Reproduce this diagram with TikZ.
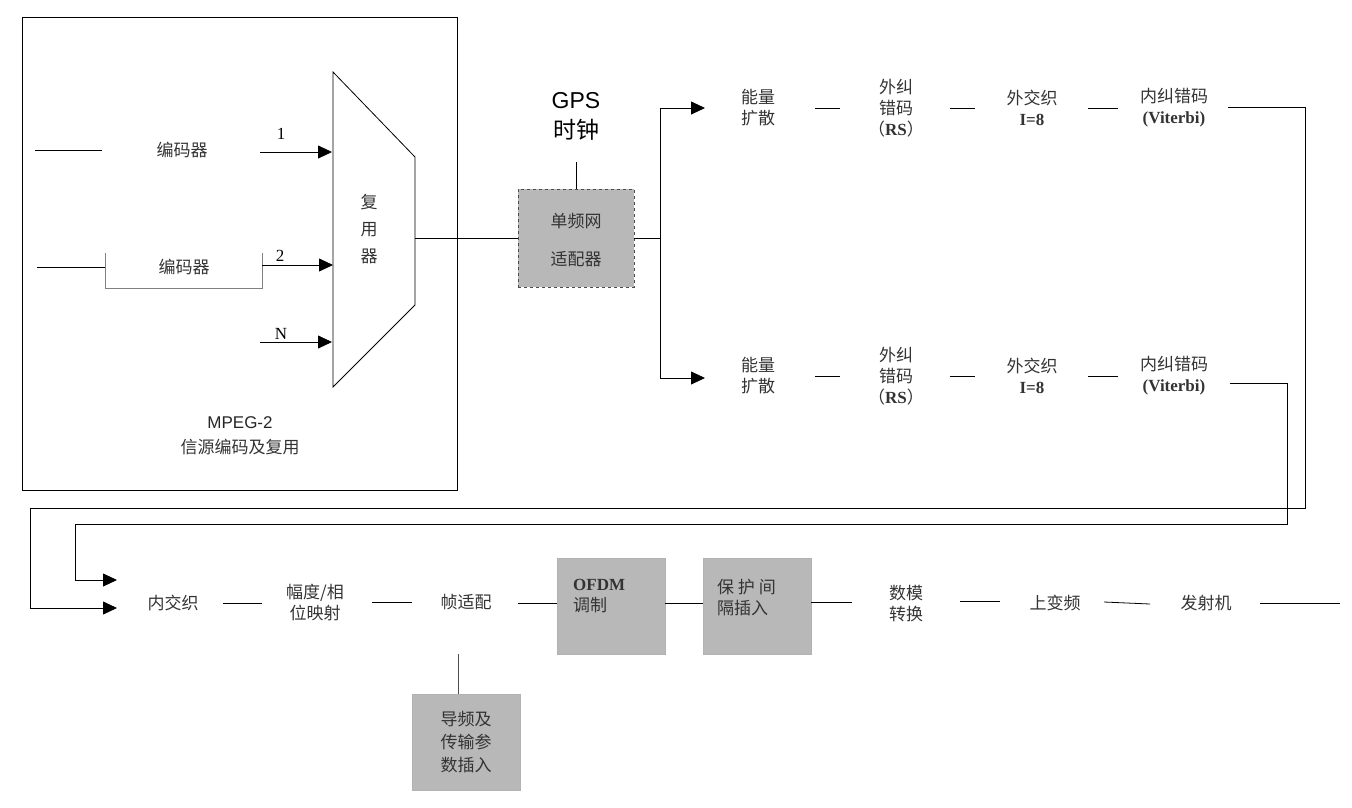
\documentclass[tikz,border=0pt]{standalone}
\usepackage{fontspec}
\setmainfont{Liberation Serif}
\newfontfamily\cjk{Noto Sans CJK SC}
\usetikzlibrary{arrows.meta}
\begin{document}
\begin{tikzpicture}[x=1pt,y=-1pt,
  lbl/.style={font=\cjk\fontsize{17}{21}\selectfont, text=black!80, align=center, inner sep=1pt},
  gbox/.style={fill=black!28, draw=black!30},
  ln/.style={line width=0.8pt},
  arr/.style={line width=0.8pt,-{Triangle[length=14pt,width=13pt]}}]
\useasboundingbox (0,0) rectangle (1352,807);
% left big box
\draw[ln] (22,17) rectangle (457,490);
\coordinate (i1) at (35,150); \coordinate (i1e) at (102,150);
\draw[ln] (i1) -- (i1e);
\node[lbl] (enc1) at (182,150) {编码器};
\coordinate (i2) at (37,267); \coordinate (i2e) at (105,267);
\draw[ln] (i2) -- (i2e);
\draw[black!50] (105,253) -- (105,288) -- (262,288) -- (262,253);
\node[lbl] (enc2) at (184,267) {编码器};
% mux
\draw[ln] (333,72) -- (415,157) -- (415,305) -- (333,387) -- cycle;
\node[lbl, align=center] (mux) at (369,229) {复\\[6pt]用\\[6pt]器};
\coordinate (a1) at (260,152); \coordinate (a1e) at (332,152);
\coordinate (a2) at (262,265); \coordinate (a2e) at (333,265);
\coordinate (a3) at (260,342); \coordinate (a3e) at (332,342);
\draw[arr] (a1) -- (a1e);
\draw[arr] (a2) -- (a2e);
\draw[arr] (a3) -- (a3e);
\node[font=\fontsize{17}{19}\selectfont] (n1) at (281,134) {1};
\node[font=\fontsize{17}{19}\selectfont] (n2) at (280,256) {2};
\node[font=\fontsize{17}{19}\selectfont] (nN) at (281,334) {N};
\node[inner sep=1pt, text=black!85, font=\fontspec{Liberation Sans}\fontsize{17}{20}\selectfont] (mpeg) at (240,423) {MPEG-2};
\node[lbl] (mpeg2) at (240,447) {信源编码及复用};
% SFN adapter
\node[gbox, draw=black!70, dashed, minimum width=116pt, minimum height=98pt] (sfn) at (576,238) {};
\node[lbl] at (576,221) {单频网};
\node[lbl] at (576,259) {适配器};
\node[font=\fontspec{Liberation Sans}\fontsize{23}{30}\selectfont, align=center, inner sep=1pt] (gps) at (576,116) {GPS\\{\cjk 时钟}};
\draw[ln] (sfn.north) -- (576,162);
\draw[ln] (415,238) -- (sfn.west);
\coordinate (sp) at (660,238);
\draw[ln] (sfn.east) -- (sp);
\draw[arr] (sp) |- (705,108);
\draw[arr] (sp) |- (705,378);
% branch rows
\foreach \y in {108, 376}{
  \node[lbl] at (758,\y) {能量\\扩散};
  \draw[ln] (815,\y) -- (840,\y);
  \node[lbl] at (896,\y) {外纠\\错码\\（{\rmfamily\bfseries RS}）};
  \draw[ln] (950,\y) -- (975,\y);
  \node[lbl] at (1032,\y) {外交织\\{\rmfamily\bfseries I=8}};
  \draw[ln] (1088,\y) -- (1118,\y);
  \node[lbl] at (1174,\y) {内纠错码\\{\rmfamily\bfseries (Viterbi)}};
}
% feedback lines
\coordinate (t1) at (1228,107); \coordinate (t2) at (1230,383);
\draw[arr] (t1) -- (1305,107) -- (1305,508) -- (30,508) -- (30,608) -- (117,608);
\draw[arr] (t2) -- (1287,383) -- (1287,524) -- (75,524) -- (75,580) -- (117,580);
% bottom row
\node[lbl] (ni) at (173,603) {内交织};
\draw[ln] (223,603) -- (262,603);
\node[lbl] (map) at (315,603) {幅度/相\\位映射};
\draw[ln] (372,602) -- (412,602);
\node[lbl] (fa) at (466,602) {帧适配};
\draw[ln] (518,603) -- (557,603);
\node[gbox, minimum width=108pt, minimum height=96pt] (ofdm) at (611,606) {};
\node[lbl, align=left, anchor=north west] at (572,578) {{\rmfamily\bfseries OFDM}\\调制};
\draw[ln] (665,603) -- (703,603);
\node[gbox, minimum width=108pt, minimum height=96pt] (gi) at (757,606) {};
\node[lbl, align=left, anchor=north west] at (716,578) {保 护 间\\隔插入};
\draw[ln] (811,602) -- (852,602);
\node[lbl] (da) at (906,604) {数模\\转换};
\draw[ln] (960,601) -- (1000,601);
\node[lbl] (up) at (1055,603) {上变频};
\draw[ln] (1104,602) -- (1150,604);
\node[lbl] (tx) at (1206,603) {发射机};
\draw[ln] (1260,603) -- (1340,603);
\node[gbox, minimum width=108pt, minimum height=96pt] (pil) at (466,742) {};
\node[lbl] at (466,742) {导频及\\[2pt]传输参\\[2pt]数插入};
\draw[ln, black!70] (458,654) -- (458,694);
\end{tikzpicture}
\end{document}
